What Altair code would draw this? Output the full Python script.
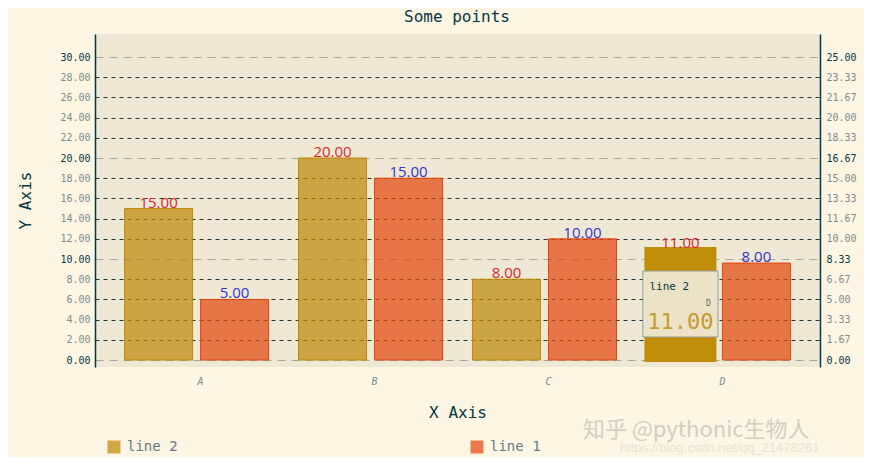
import pandas as pd
import altair as alt

categories = ["A", "B", "C", "D"]
series_names = ["line 2", "line 1"]
line2_values = [15, 20, 8, 11]   # primary axis
line1_values = [5, 15, 10, 8]    # secondary axis
left_ticks = [i * 2 for i in range(16)]
right_ticks = [k * 25 / 15 for k in range(16)]
hover_category = "D"
chart_title = "Some points"

MONO = "DejaVu Sans Mono"
BG = "#fdf6e3"
PLOT_BG = "#eee8d5"
DARK = "#073642"
GREY = "#7d8b8c"
bar_colors = ["#bf8804", "#e3450c"]
value_colors = {"line 2": "#d9262a", "line 1": "#3434d0"}

left_domain = [-0.69, 32.28]
right_domain = [v * 25 / 30 for v in left_domain]

df2 = pd.DataFrame({"cat": categories, "series": "line 2", "val": line2_values})
df1 = pd.DataFrame({"cat": categories, "series": "line 1", "val": line1_values})
df2["label"] = df2["val"].map(lambda v: f"{v:.2f}")
df1["label"] = df1["val"].map(lambda v: f"{v:.2f}")

x_enc = alt.X("cat:N", scale=alt.Scale(domain=categories, paddingInner=0.172, paddingOuter=0.17),
              axis=alt.Axis(title="X Axis", domain=False, ticks=False, labelAngle=0,
                            labelFont=MONO, labelFontSize=10, labelFontStyle="italic",
                            labelColor=GREY, labelPadding=9, labelOffset=4,
                            titleFont=MONO, titleFontSize=16, titleFontWeight="normal",
                            titleColor=DARK, titleY=45, titleBaseline="middle"))
xo_enc = alt.XOffset("series:N", scale=alt.Scale(domain=series_names, paddingInner=0.105, paddingOuter=0))
color_enc = alt.Color("series:N", scale=alt.Scale(domain=series_names, range=bar_colors),
                      legend=alt.Legend(title=None, orient="none", legendX=12, legendY=406,
                                        direction="horizontal", columnPadding=292,
                                        symbolType="square", symbolSize=169, symbolOpacity=0.7,
                                        symbolStrokeWidth=0, labelFont=MONO, labelFontSize=14,
                                        labelColor="#657b83", labelOffset=6, padding=0))
stroke_enc = alt.Stroke("series:N", scale=alt.Scale(domain=series_names, range=bar_colors), legend=None)

left_axis = alt.Axis(
    values=left_ticks, format=".2f", ticks=False, domainColor=DARK, domainWidth=1.5,
    grid=True, gridWidth=1,
    gridColor={"condition": {"test": "datum.value % 10 == 0", "value": "#a3a79c"}, "value": "#1e3636"},
    gridDash={"condition": {"test": "datum.value % 10 == 0", "value": [8, 6]}, "value": [4, 4]},
    labelFont=MONO, labelFontSize=10, labelPadding=5,
    labelColor={"condition": {"test": "datum.value % 10 == 0", "value": DARK}, "value": GREY},
    title="Y Axis", titleFont=MONO, titleFontSize=16, titleFontWeight="normal", titleColor=DARK,
    titleX=-70, titleY=166, titleAngle=270, titleBaseline="middle", titleAlign="center",
)
right_axis = alt.Axis(
    orient="right", values=right_ticks, format=".2f", ticks=False, grid=False,
    domainColor=DARK, domainWidth=1.5, labelFont=MONO, labelFontSize=10, labelPadding=6,
    labelColor={"condition": {"test": "round(datum.value * 0.6) % 5 == 0", "value": DARK}, "value": GREY},
    title=None,
)
y_left = alt.Y("val:Q", scale=alt.Scale(domain=left_domain, nice=False, zero=False), axis=left_axis)
y_right = alt.Y("val:Q", scale=alt.Scale(domain=right_domain, nice=False, zero=False), axis=right_axis)

is_hover = f"datum.cat == '{hover_category}'"

bars2 = alt.Chart(df2).mark_bar().encode(
    x=x_enc, xOffset=xo_enc, y=y_left,
    color=alt.condition(is_hover, alt.value("#c08e08"), color_enc),
    fillOpacity=alt.condition(is_hover, alt.value(1), alt.value(0.7)),
    stroke=alt.condition(is_hover, alt.value("#c08e08"), stroke_enc),
    strokeWidth=alt.condition(is_hover, alt.value(4), alt.value(1)),
)
labels2 = alt.Chart(df2).mark_text(font="Open Sans", fontSize=15, baseline="alphabetic", dy=-1,
                                   color=value_colors["line 2"]).encode(
    x=x_enc, xOffset=xo_enc, y=y_left, text="label:N")

tip = df2[df2["cat"] == hover_category].copy()
tip_box = alt.Chart(tip).mark_bar(width=75, fill="#efe9d8", fillOpacity=0.92,
                                  stroke="#8f9a98", strokeWidth=1).encode(
    x=x_enc, xOffset=xo_enc, y=alt.value(237), y2=alt.value(303))
tip_series = alt.Chart(tip).mark_text(font=MONO, fontSize=11, align="left", baseline="middle",
                                      dx=-31, color=DARK).encode(
    x=x_enc, xOffset=xo_enc, y=alt.value(253), text="series:N")
tip_cat = alt.Chart(tip).mark_text(font=MONO, fontSize=8, align="center", baseline="middle",
                                   dx=28, color="#586e75").encode(
    x=x_enc, xOffset=xo_enc, y=alt.value(270), text="cat:N")
tip_val = alt.Chart(tip).mark_text(font=MONO, fontSize=22, align="center", baseline="middle",
                                   color="#c49a2c").encode(
    x=x_enc, xOffset=xo_enc, y=alt.value(288), text="label:N")

bars1 = alt.Chart(df1).mark_bar(fillOpacity=0.7).encode(
    x=x_enc, xOffset=xo_enc, y=y_right, color=color_enc, stroke=stroke_enc,
    strokeWidth=alt.value(1),
)
labels1 = alt.Chart(df1).mark_text(font="Open Sans", fontSize=15, baseline="alphabetic", dy=-1,
                                   color=value_colors["line 1"]).encode(
    x=x_enc, xOffset=xo_enc, y=y_right, text="label:N")

title_mark = alt.Chart(pd.DataFrame({"t": [chart_title]})).mark_text(
    font=MONO, fontSize=16, align="center", baseline="middle", color=DARK).encode(
    x=alt.value(362), y=alt.value(-17), text="t:N")

wm = pd.DataFrame({"t": ["知乎 @pythonic生物人"]})
wm2 = pd.DataFrame({"t": ["https://blog.csdn.net/qq_21478261"]})
watermark = alt.Chart(wm).mark_text(font="Noto Sans CJK SC", fontSize=22, align="left",
                                    baseline="middle", color="#d3cec1").encode(
    x=alt.value(488), y=alt.value(396), text="t:N")
watermark2 = alt.Chart(wm2).mark_text(font="Liberation Sans", fontSize=13, align="left",
                                      baseline="middle", color="#ebe3d1").encode(
    x=alt.value(525), y=alt.value(414), text="t:N")

left_layer = alt.layer(bars2, labels2, tip_box, tip_series, tip_cat, tip_val)
right_layer = alt.layer(bars1, labels1)

chart = (
    alt.layer(left_layer, right_layer, title_mark, watermark, watermark2)
    .resolve_scale(y="independent")
    .properties(
        width=725, height=333,
        padding={"left": 87, "top": 26, "right": 44, "bottom": 90},
        autosize="none",
        background=BG,
    )
    .configure_view(fill=PLOT_BG, stroke=None)
)

chart.save("out.html", embed_options={"renderer": "svg", "actions": False})
